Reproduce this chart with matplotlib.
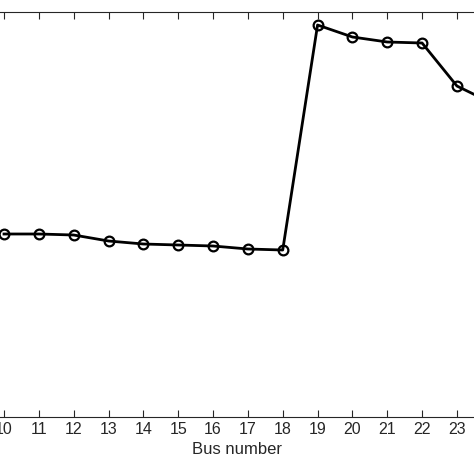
import matplotlib
matplotlib.use('Agg')
import matplotlib.pyplot as plt

plt.rcParams['font.family'] = ['Liberation Sans', 'DejaVu Sans']

bus = [10, 11, 12, 13, 14, 15, 16, 17, 18, 19, 20, 21, 22, 23, 24]
value = [183, 183, 182, 176, 173, 172, 171, 168, 167, 392, 380, 375, 374, 331, 314]

fig = plt.figure(figsize=(4.74, 4.74), dpi=100)
ax = fig.add_axes([0, 57 / 474, 1, 405 / 474])
ax.plot(bus, value, color='black', linewidth=2, marker='o', markersize=7,
        markerfacecolor='none', markeredgewidth=1.6)
ax.set_xlim(9.885, 23.49)
ax.set_ylim(0, 405)
ax.set_xticks(bus[:-1])
ax.set_yticks([])
ax.tick_params(axis='x', direction='in', top=True, length=5, color='#262626',
               labelsize=11.5, labelcolor='#262626')
for s in ax.spines.values():
    s.set_color('#262626')
ax.spines['left'].set_visible(False)
ax.spines['right'].set_visible(False)
ax.set_xlabel('Bus number', fontsize=12, color='#262626', labelpad=4)
fig.savefig('out.png', dpi=100)
